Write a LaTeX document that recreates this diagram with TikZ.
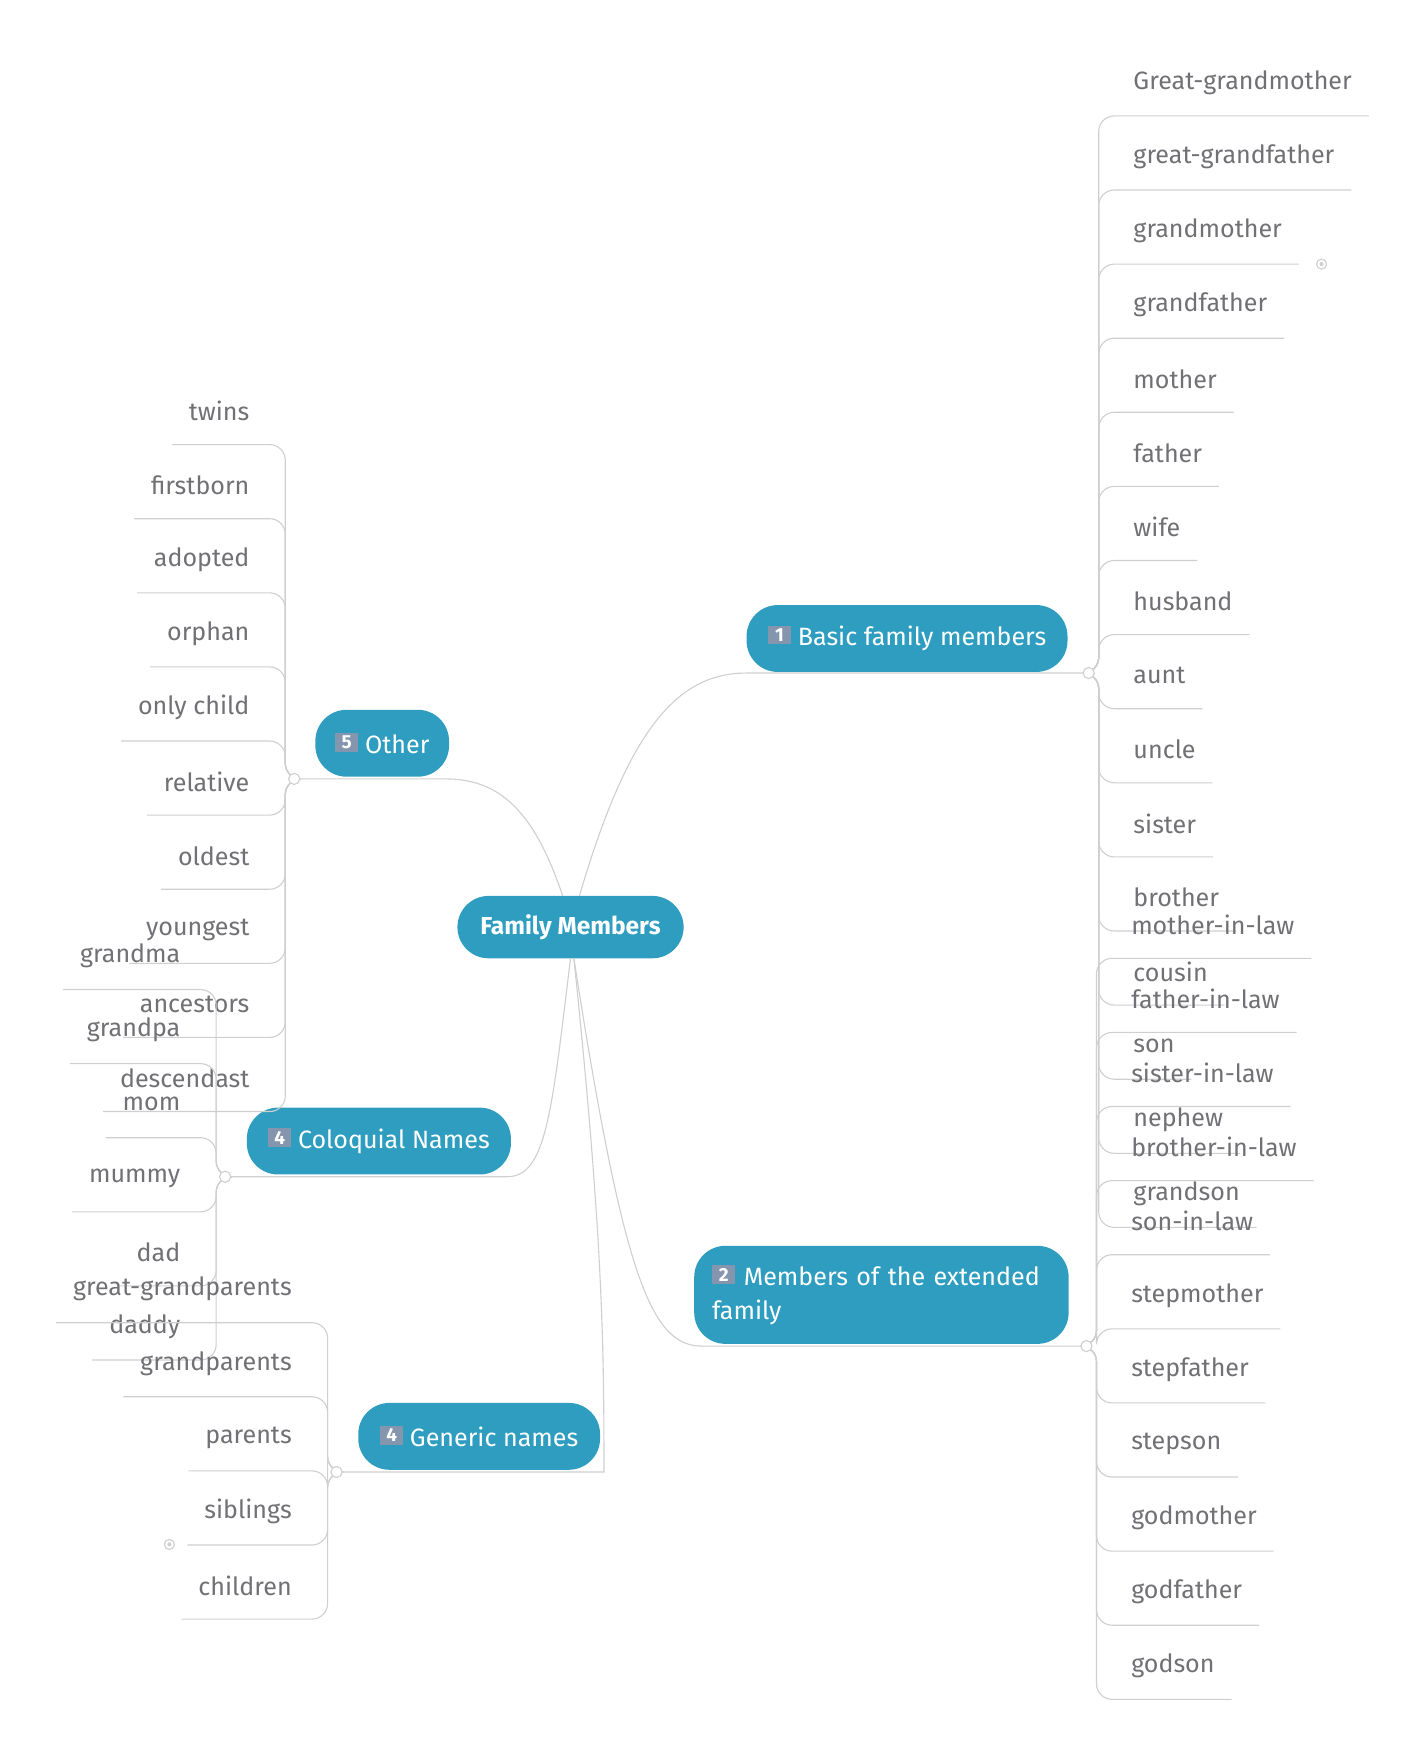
\documentclass[tikz,border=0pt]{standalone}
\usepackage{fontspec}
\setmainfont{Fira Sans}
\usetikzlibrary{positioning,calc}
\definecolor{pill}{HTML}{2E9DBF}
\definecolor{leaftext}{HTML}{707075}
\definecolor{linkc}{HTML}{CFCFCF}
\definecolor{keyc}{HTML}{8496AE}
\newcommand{\keycap}[1]{{\setlength{\fboxsep}{2.5pt}\raisebox{4pt}{\colorbox{keyc}{\makebox[16pt]{\fontsize{17}{17}\selectfont\bfseries\textcolor{white}{#1}}}}}}
\begin{document}
\begin{tikzpicture}[x=1pt,y=-1pt,
    topic/.style={fill=pill, text=white, rounded corners=28pt, inner xsep=16pt, font=\fontsize{22.5}{30}\selectfont},
    leaf/.style={text=leaftext, inner sep=0pt, font=\fontsize{22.5}{24}\selectfont},
    link/.style={draw=linkc, line width=1pt},
    junc/.style={circle, draw=linkc, fill=white, line width=1pt, inner sep=0pt, minimum size=10pt}
  ]
\useasboundingbox (0,0) rectangle (1280,1566);

% Central topic
\node[topic, font=\fontsize{22}{26}\selectfont\bfseries, minimum height=56pt, minimum width=203pt, inner xsep=8pt] (root) at (512,832) {Family Members};

% Main topics
\node[topic, minimum height=60pt, minimum width=288pt, inner xsep=6pt] (basic) at (814,573) {\keycap{1} Basic family members};
\node[topic, minimum height=88pt, minimum width=330pt, align=left, text width=304pt] (ext) at (791,1162) {\keycap{2} Members of the extended\\family};
\node[topic, minimum height=60pt, minimum width=120pt, inner xsep=6pt] (other) at (343,667) {\keycap{5} Other};
\node[topic, minimum height=60pt, minimum width=237pt, inner xsep=6pt] (colo) at (340,1024) {\keycap{4} Coloquial Names};
\node[topic, minimum height=60pt, minimum width=217pt, inner xsep=6pt] (gen) at (430,1289) {\keycap{4} Generic names};

% Junctions
\coordinate (jb) at (977,604);
\coordinate (je) at (975,1208);
\coordinate (jo) at (264,699);
\coordinate (jc) at (202,1056);
\coordinate (jg) at (302,1321);

% Connectors from the central topic
\draw[link] (520,804) .. controls (565,650) and (610,604) .. (670,604) -- (jb);
\draw[link] (505,804) .. controls (480,730) and (450,699) .. (400,699) -- (jo);
\draw[link] (512,860) .. controls (495,1000) and (490,1056) .. (455,1056) -- (jc);
\draw[link] (515,860) .. controls (540,1100) and (542,1200) .. (542,1310) -- (542,1321) -- (jg);
\draw[link] (515,860) .. controls (560,1150) and (585,1208) .. (630,1208) -- (je);

% Basic family members
\foreach \t [count=\i] in {Great-grandmother,great-grandfather,grandmother,grandfather,mother,father,wife,husband,aunt,uncle,sister,brother,cousin,son,nephew,grandson} {
  \node[leaf, anchor=west] (b\i) at (1017,{74+66.5*(\i-1)}) {\t};
  \draw[link, rounded corners=14pt] (jb) -- ++(9,0) |- ($(b\i.east)+(15,30)$);
}
% Members of the extended family
\foreach \t [count=\i] in {mother-in-law,father-in-law,sister-in-law,brother-in-law,son-in-law,stepmother,stepfather,stepson,godmother,godfather,godson} {
  \node[leaf, anchor=west] (e\i) at (1015,{830+66.5*(\i-1)}) {\t};
  \draw[link, rounded corners=14pt] (je) -- ++(9,0) |- ($(e\i.east)+(15,30)$);
}
% Other
\foreach \t [count=\i] in {twins,firstborn,adopted,orphan,only child,relative,oldest,youngest,ancestors,descendast} {
  \node[leaf, anchor=east] (o\i) at (224,{369+66.5*(\i-1)}) {\t};
  \draw[link, rounded corners=14pt] (jo) -- ++(-8,0) |- ($(o\i.west)+(-15,30)$);
}
% Coloquial Names
\foreach \t [count=\i] in {grandma,grandpa,mom,mummy,dad,daddy} {
  \node[leaf, anchor=east] (c\i) at (162,{858+66.5*(\i-1)}) {\t};
  \draw[link, rounded corners=14pt] (jc) -- ++(-8,0) |- ($(c\i.west)+(-15,30)$);
}
% Generic names
\foreach \t [count=\i] in {great-grandparents,grandparents,parents,siblings,children} {
  \node[leaf, anchor=east] (g\i) at (262,{1157+66.5*(\i-1)}) {\t};
  \draw[link, rounded corners=14pt] (jg) -- ++(-8,0) |- ($(g\i.west)+(-15,30)$);
}

% Junction markers
\foreach \j in {jb,je,jo,jc,jg} \node[junc] at (\j) {};
\node[junc, minimum size=9pt] (cb3) at (1186,237) {};
\fill[linkc] (cb3) circle (1.8pt);
\node[junc, minimum size=9pt] (cg4) at (152,1386) {};
\fill[linkc] (cg4) circle (1.8pt);
\end{tikzpicture}
\end{document}
